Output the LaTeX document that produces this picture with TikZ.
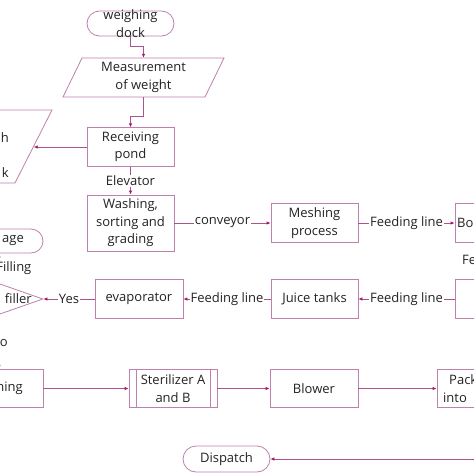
\documentclass[tikz,border=0pt]{standalone}
\usepackage{fontspec}
\setmainfont{Open Sans}
\usetikzlibrary{arrows.meta,shapes.misc,shapes.geometric}
\definecolor{boxc}{RGB}{190,128,172}
\definecolor{linec}{RGB}{172,82,140}
\definecolor{arrc}{RGB}{165,25,105}
\definecolor{txtc}{RGB}{35,35,35}
\newcommand{\fsz}{\fontsize{13}{17.5}\selectfont}
\tikzset{
  box/.style={draw=boxc, line width=0.8pt, minimum width=87pt, minimum height=38.5pt, inner sep=0pt, align=center, font=\fsz, text=txtc},
  term/.style={rounded rectangle, draw=boxc, line width=0.8pt, inner sep=0pt, font=\fsz, text=txtc},
  inv/.style={draw=none, inner sep=0pt},
  txt/.style={inner sep=0pt, align=center, font=\fsz, text=txtc},
  conn/.style={draw=linec, line width=0.8pt, -{Latex[length=4pt,width=3.5pt,color=arrc]}},
  plain/.style={draw=linec, line width=0.8pt},
  lbl/.style={fill=white, inner sep=1pt, font=\fsz, text=txtc},
  shp/.style={draw=boxc, line width=0.8pt}
}
\begin{document}
\begin{tikzpicture}[x=1pt,y=-1pt]
\useasboundingbox (0,0) rectangle (474,474);
\fill[white] (0,0) rectangle (474,474);
\clip (0,0) rectangle (474,474);

% top terminal
\node[term, minimum width=87pt, minimum height=25pt] (wd) at (130.5,23.5) {};
\node[txt] at (wd.center) {weighing\\dock};

% measurement parallelogram
\node[inv, minimum width=123pt, minimum height=39pt] (meas) at (143.5,77.5) {};
\draw[shp] (82,58) -- (224,58) -- (205,97) -- (63,97) -- cycle;
\node[txt] at (meas.center) {Measurement\\of weight};

% receiving pond
\node[box] (rp) at (130.5,147) {Receiving\\pond};

% left parallelogram
\node[inv, minimum width=147pt, minimum height=73pt] (lp) at (-40,147) {};
\draw[shp] (-80,110) -- (52,110) -- (15,183) -- (-117,183) -- cycle;
\node[txt, align=right, anchor=east] at (9,155.5) {h\\\mbox{}\\k};

% washing
\node[box, minimum height=56pt] (ws) at (130.5,223) {Washing,\\sorting and\\grading};
\node[box] (mp) at (314.5,223) {Meshing\\process};
\node[box] (bo) at (498.5,223) {};
\node[txt, anchor=west] at (457,223) {Bo};

% row 2
\node[box] (r2) at (498.5,299) {};
\node[box] (jt) at (314.5,299) {Juice tanks};
\node[box, minimum width=88pt] (ev) at (139,299) {evaporator};
\node[diamond, draw=boxc, line width=0.8pt, inner sep=0pt, minimum width=88pt, minimum height=31pt] (fl) at (-1,299) {};
\node[txt, anchor=east] at (32,299) {filler};
\node[term, minimum width=88pt, minimum height=24pt] (sto) at (-1,241) {};
\node[txt, anchor=east] at (24,241) {age};

% row 3
\node[box, minimum width=88pt] (wa) at (-1,388.5) {};
\node[txt, anchor=east] at (23,388.5) {hing};
\node[box, minimum width=88pt] (st) at (173,388.5) {Sterilizer A\\and B};
\draw[shp] ([xshift=7.5pt]st.north west) -- ([xshift=7.5pt]st.south west);
\draw[shp] ([xshift=-7.5pt]st.north east) -- ([xshift=-7.5pt]st.south east);
\node[box, minimum width=88pt] (bl) at (314,388.5) {Blower};
\node[box, minimum width=88pt] (pk) at (481,388.5) {};
\node[txt, align=left, anchor=west] at (443,388.5) {\hspace*{6pt}Pack\\into};

% dispatch
\node[term, minimum width=87pt, minimum height=26pt] (dis) at (226.5,459) {Dispatch};

% connectors
\draw[conn] (wd.south) -- ++(0,10) -| (meas.north);
\draw[conn] (meas.south) -- ++(0,19) -| (rp.north);
\draw[conn] (rp.west) -- (lp.east);
\draw[conn] (rp.south) -- node[lbl] {Elevator} (ws.north);
\draw[conn] (ws.east) -- node[lbl] {conveyor} (mp.west);
\draw[conn] (mp.east) -- node[lbl] {Feeding line} (bo.west);
\draw[conn] (bo.south) -- node[lbl] {Feeding line} (r2.north);
\draw[conn] (r2.west) -- node[lbl] {Feeding line} (jt.east);
\draw[conn] (jt.west) -- node[lbl] {Feeding line} (ev.east);
\draw[conn] (ev.west) -- node[lbl] {Yes} (fl.east);
\draw[conn] (fl.north) -- node[lbl, anchor=west, xshift=-4pt] {Filling} (sto.south);
\draw[conn] (fl.south) -- node[lbl] {No} (wa.north);
\draw[conn] (wa.east) -- (st.west);
\draw[conn] (st.east) -- (bl.west);
\draw[conn] (bl.east) -- (pk.west);
\draw[conn] (pk.south) |- (dis.east);
\end{tikzpicture}
\end{document}
